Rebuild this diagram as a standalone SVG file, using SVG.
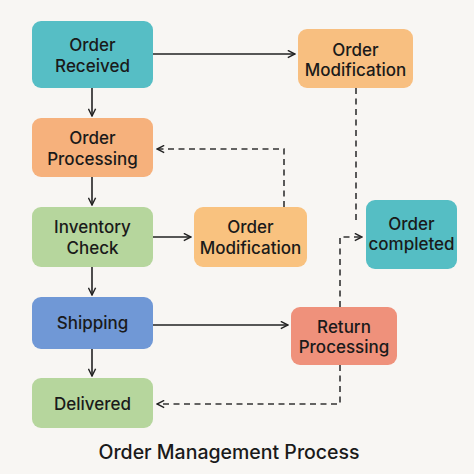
<svg xmlns="http://www.w3.org/2000/svg" width="474" height="474" viewBox="0 0 474 474">
<defs>
<style>
.n text{font-family:Inter,"Liberation Sans",Arial,sans-serif;font-size:17px;font-weight:500;fill:#1a1a1a;text-anchor:middle}
.c path{fill:none;stroke:#222;stroke-width:1.6}
.c .d{stroke-dasharray:6 4.5;stroke:#333}
</style>
<marker id="a" viewBox="0 0 10 10" refX="9" refY="5" markerWidth="9" markerHeight="9" markerUnits="userSpaceOnUse" orient="auto">
<path d="M1,1 L9,5 L1,9" fill="none" stroke="#222" stroke-width="1.6"/>
</marker>
</defs>
<rect width="474" height="474" fill="#f8f6f3"/>
<g class="c">
<path d="M92,88 V116" marker-end="url(#a)"/>
<path d="M92,177 V205" marker-end="url(#a)"/>
<path d="M92,267 V295" marker-end="url(#a)"/>
<path d="M92,349 V376" marker-end="url(#a)"/>
<path d="M153,54 H295" marker-end="url(#a)"/>
<path d="M153,237 H191" marker-end="url(#a)"/>
<path d="M153,325 H288" marker-end="url(#a)"/>
<path class="d" d="M284,207 V149 H157" marker-end="url(#a)"/>
<path class="d" d="M356,88 V224"/>
<path class="d" d="M340,307 V237 H362" marker-end="url(#a)"/>
<path class="d" d="M340,365 V404 H157" marker-end="url(#a)"/>
</g>
<g id="order-received" class="n"><rect x="32" y="21" width="121" height="67" rx="9" fill="#56bec5"/><text x="92.5" y="51">Order</text><text x="92.5" y="72">Received</text></g>
<g id="order-modification-top" class="n"><rect x="298" y="29" width="115" height="59" rx="9" fill="#f8bf80"/><text x="355.5" y="56">Order</text><text x="355.5" y="76">Modification</text></g>
<g id="order-processing" class="n"><rect x="32" y="118" width="121" height="59" rx="9" fill="#f6b17c"/><text x="92.5" y="144">Order</text><text x="92.5" y="165">Processing</text></g>
<g id="inventory-check" class="n"><rect x="32" y="207" width="121" height="60" rx="9" fill="#b6d69d"/><text x="92.5" y="233">Inventory</text><text x="92.5" y="254">Check</text></g>
<g id="order-modification-mid" class="n"><rect x="194" y="207" width="113" height="60" rx="9" fill="#f9c27f"/><text x="250.5" y="233">Order</text><text x="250.5" y="254">Modification</text></g>
<g id="order-completed" class="n"><rect x="366" y="200" width="91" height="69" rx="9" fill="#55bec4"/><text x="411.5" y="230">Order</text><text x="411.5" y="250">completed</text></g>
<g id="shipping" class="n"><rect x="32" y="297" width="121" height="52" rx="9" fill="#7098d6"/><text x="92.5" y="329">Shipping</text></g>
<g id="return-processing" class="n"><rect x="291" y="307" width="106" height="58" rx="9" fill="#ef917b"/><text x="344" y="333">Return</text><text x="344" y="353">Processing</text></g>
<g id="delivered" class="n"><rect x="32" y="378" width="121" height="50" rx="9" fill="#b6d69d"/><text x="92.5" y="410">Delivered</text></g>
<text x="229" y="459" font-family="Inter,Liberation Sans,Arial,sans-serif" font-size="19.5" font-weight="500" fill="#1a1a1a" text-anchor="middle">Order Management Process</text>
</svg>
